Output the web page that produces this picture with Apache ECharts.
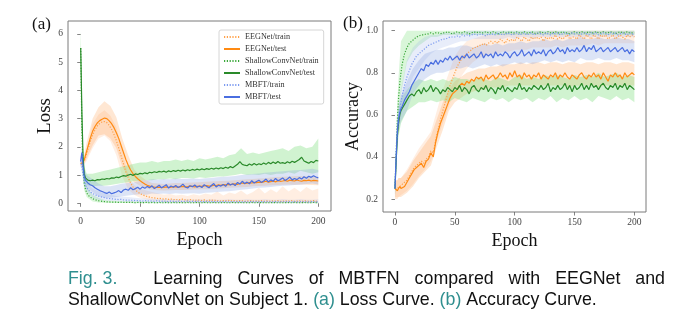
<!DOCTYPE html>
<html>
<head>
<meta charset="utf-8">
<script src="https://cdn.jsdelivr.net/npm/echarts@6.0.0/dist/echarts.min.js"></script>
<style>html,body{margin:0;padding:0;background:#fff;}#c{width:686px;height:324px;}</style>
</head>
<body>
<div id="c"></div>
<script>
// ---------- DATA ----------
const epochs = [0,1,2,3,4,5,6,8,
 10,12,14,16,18, 20,22,24,26,28, 30,32,34,36,38, 40,42,44,46,48, 50,52,54,56,58,
 60,62,64,66,68, 70,72,74,76,78, 80,82,84,86,88, 90,92,94,96,98, 100,102,104,106,108,
 110,112,114,116,118, 120,122,124,126,128, 130,132,134,136,138, 140,142,144,146,148,
 150,152,154,156,158, 160,162,164,166,168, 170,172,174,176,178, 180,182,184,186,188,
 190,192,194,196,198, 200];
const bandEpochs = [0,1,2,3,5, 10,15,20,25,30, 35,40,45,50,55, 60,65,70,75,80,
 85,90,95,100,105, 110,115,120,125,130, 135,140,145,150,155, 160,165,170,175,180, 185,190,195,200];

const seriesNames = ['EEGNet/train','EEGNet/test','ShallowConvNet/train','ShallowConvNet/test','MBFT/train','MBFT/test'];
const xTicks = [0,50,100,150,200];
const lossTicks = [0,1,2,3,4,5,6];
const accTicks = [0.2,0.4,0.6,0.8,1.0];

// Loss curves
const lossEegTrain = [1.40,1.38,1.42,1.50,1.62,1.76,1.90,2.18,
 2.42,2.60,2.74,2.83,2.88, 2.90,2.86,2.76,2.62,2.44, 2.22,1.96,1.68,1.40,1.12,
 0.90,0.72,0.58,0.47,0.40, 0.34,0.30,0.27,0.24,0.22, 0.20,0.19,0.17,0.18,0.16,
 0.15,0.16,0.14,0.15,0.13, 0.14,0.12,0.13,0.15,0.12, 0.11,0.13,0.12,0.10,0.12,
 0.11,0.10,0.12,0.09,0.11, 0.10,0.12,0.09,0.10,0.08, 0.10,0.09,0.11,0.08,0.10,
 0.09,0.08,0.10,0.09,0.07, 0.09,0.08,0.10,0.07,0.09, 0.08,0.10,0.07,0.09,0.08,
 0.07,0.09,0.08,0.10,0.07, 0.08,0.07,0.09,0.08,0.10, 0.07,0.08,0.09,0.07,0.08,
 0.09,0.07,0.08,0.10,0.07, 0.08];
const lossEegTest = [1.40,1.38,1.45,1.55,1.70,1.85,2.00,2.30,
 2.55,2.72,2.85,2.93,2.98, 3.02,3.00,2.92,2.82,2.68, 2.50,2.30,2.05,1.80,1.55,
 1.35,1.18,1.05,0.95,0.87, 0.80,0.74,0.68,0.64,0.61, 0.59,0.57,0.56,0.57,0.55,
 0.56,0.58,0.56,0.57,0.59, 0.58,0.57,0.59,0.60,0.58, 0.59,0.61,0.60,0.58,0.60,
 0.61,0.60,0.62,0.63,0.61, 0.62,0.64,0.63,0.65,0.64, 0.66,0.65,0.67,0.66,0.68,
 0.69,0.67,0.70,0.72,0.70, 0.71,0.73,0.72,0.74,0.73, 0.75,0.74,0.76,0.78,0.75,
 0.77,0.79,0.76,0.80,0.78, 0.79,0.81,0.78,0.82,0.80, 0.79,0.83,0.80,0.78,0.81,
 0.80,0.82,0.79,0.81,0.80, 0.79];
const lossShTrain = [5.50,2.60,1.20,0.70,0.50,0.38,0.30,0.22,
 0.16,0.13,0.10,0.08,0.07, 0.06,0.05,0.05,0.04,0.04, 0.04,0.03,0.04,0.03,0.03,
 0.03,0.04,0.03,0.02,0.03, 0.03,0.02,0.03,0.03,0.02, 0.03,0.02,0.02,0.03,0.02,
 0.02,0.03,0.02,0.02,0.03, 0.02,0.02,0.03,0.02,0.02, 0.03,0.02,0.02,0.02,0.03,
 0.02,0.02,0.03,0.02,0.02, 0.02,0.03,0.02,0.02,0.02, 0.03,0.02,0.02,0.02,0.03,
 0.02,0.02,0.03,0.02,0.02, 0.02,0.02,0.03,0.02,0.02, 0.03,0.02,0.02,0.02,0.02,
 0.02,0.03,0.02,0.02,0.02, 0.02,0.02,0.03,0.02,0.02, 0.03,0.02,0.02,0.02,0.03,
 0.02,0.02,0.02,0.03,0.02, 0.02];
const lossShTest = [5.50,3.20,1.60,1.05,0.90,0.84,0.82,0.80,
 0.82,0.80,0.84,0.83,0.86, 0.85,0.88,0.86,0.90,0.89, 0.93,0.91,0.95,0.98,0.96,
 1.00,1.03,0.99,1.04,1.02, 1.06,1.04,1.08,1.05,1.10, 1.08,1.12,1.09,1.13,1.11,
 1.14,1.10,1.15,1.12,1.16, 1.13,1.17,1.14,1.18,1.15, 1.19,1.16,1.20,1.17,1.21,
 1.18,1.22,1.19,1.23,1.20, 1.24,1.21,1.25,1.22,1.26, 1.23,1.28,1.24,1.30,1.26,
 1.32,1.38,1.48,1.38,1.35, 1.33,1.39,1.35,1.41,1.36, 1.40,1.37,1.43,1.38,1.45,
 1.40,1.46,1.41,1.48,1.42, 1.44,1.41,1.47,1.43,1.49, 1.45,1.50,1.55,1.63,1.50,
 1.46,1.42,1.48,1.44,1.52, 1.50];
const lossMbTrain = [1.50,1.30,1.00,0.80,0.65,0.55,0.48,0.40,
 0.35,0.30,0.27,0.24,0.22, 0.20,0.18,0.17,0.16,0.15, 0.14,0.13,0.14,0.12,0.11,
 0.12,0.10,0.11,0.09,0.10, 0.09,0.08,0.10,0.08,0.09, 0.08,0.07,0.09,0.08,0.07,
 0.08,0.07,0.06,0.08,0.07, 0.06,0.08,0.07,0.06,0.07, 0.08,0.06,0.07,0.06,0.08,
 0.06,0.07,0.05,0.07,0.06, 0.07,0.05,0.06,0.07,0.05, 0.06,0.07,0.05,0.06,0.05,
 0.07,0.05,0.06,0.05,0.06, 0.05,0.06,0.07,0.05,0.06, 0.05,0.06,0.05,0.07,0.05,
 0.06,0.05,0.06,0.05,0.06, 0.05,0.07,0.05,0.06,0.05, 0.06,0.05,0.05,0.07,0.05,
 0.06,0.05,0.06,0.05,0.06, 0.05];
const lossMbTest = [1.50,1.80,1.30,0.95,0.82,0.78,0.72,0.66,
 0.62,0.55,0.50,0.45,0.42, 0.38,0.35,0.40,0.34,0.37, 0.40,0.45,0.38,0.47,0.50,
 0.46,0.55,0.48,0.52,0.57, 0.50,0.58,0.53,0.60,0.55, 0.62,0.52,0.58,0.64,0.55,
 0.60,0.66,0.54,0.61,0.57, 0.63,0.56,0.60,0.68,0.58, 0.54,0.62,0.59,0.65,0.57,
 0.61,0.56,0.66,0.60,0.55, 0.63,0.70,0.58,0.64,0.61, 0.67,0.60,0.72,0.65,0.69,
 0.63,0.74,0.68,0.78,0.70, 0.75,0.69,0.80,0.72,0.77, 0.82,0.74,0.79,0.86,0.76,
 0.83,0.78,0.88,0.80,0.84, 0.90,0.81,0.86,0.93,0.83, 0.88,0.84,0.91,0.86,0.94,
 0.89,0.96,0.92,0.98,0.93, 0.90];

// Loss bands (lower / upper)
const lossEegTrainLo = [1.30,1.30,1.30,1.38,1.50, 1.95,2.30,2.40,2.20,1.70, 0.95,0.50,0.30,0.20,0.14,
 0.10,0.07,0.05,0.04,0.03, 0.02,0.02,0.02,0.01,0.02, 0.01,0.01,0.02,0.01,0.01,
 0.01,0.01,0.01,0.01,0.01, 0.01,0.01,0.01,0.01,0.01, 0.01,0.01,0.01,0.01];
const lossEegTrainHi = [1.50,1.48,1.55,1.65,1.95, 2.80,3.15,3.30,3.10,2.70, 1.85,1.00,0.65,0.52,0.45,
 0.40,0.35,0.30,0.33,0.28, 0.30,0.26,0.32,0.28,0.35, 0.30,0.42,0.28,0.38,0.33,
 0.45,0.30,0.40,0.55,0.35, 0.50,0.38,0.60,0.42,0.55, 0.40,0.58,0.45,0.52];
const lossEegTestLo = [1.30,1.30,1.35,1.40,1.60, 2.05,2.40,2.45,2.30,1.95, 1.30,0.95,0.75,0.62,0.52,
 0.48,0.46,0.45,0.46,0.47, 0.47,0.48,0.49,0.50,0.50, 0.51,0.52,0.53,0.55,0.56,
 0.57,0.58,0.60,0.61,0.62, 0.64,0.65,0.66,0.67,0.66, 0.67,0.66,0.65,0.64];
const lossEegTestHi = [1.50,1.50,1.60,1.75,2.15, 3.00,3.40,3.62,3.45,3.05, 2.30,1.70,1.20,0.98,0.82,
 0.72,0.70,0.68,0.70,0.72, 0.72,0.73,0.74,0.75,0.76, 0.77,0.78,0.79,0.80,0.82,
 0.83,0.85,0.86,0.88,0.89, 0.91,0.93,0.94,0.95,0.96, 0.97,0.96,0.95,0.94];
const lossShTrainLo = [4.80,2.00,0.80,0.45,0.22, 0.06,0.03,0.02,0.01,0.01, 0.01,0.01,0.00,0.00,0.00,
 0.00,0.00,0.00,0.00,0.00, 0.00,0.00,0.00,0.00,0.00, 0.00,0.00,0.00,0.00,0.00,
 0.00,0.00,0.00,0.00,0.00, 0.00,0.00,0.00,0.00,0.00, 0.00,0.00,0.00,0.00];
const lossShTrainHi = [6.10,3.20,1.60,1.00,0.60, 0.30,0.20,0.12,0.09,0.08, 0.07,0.07,0.06,0.06,0.06,
 0.06,0.05,0.06,0.05,0.06, 0.05,0.06,0.05,0.05,0.06, 0.05,0.05,0.06,0.05,0.05,
 0.06,0.05,0.05,0.06,0.05, 0.05,0.06,0.05,0.05,0.06, 0.05,0.05,0.06,0.05];
const lossShTestLo = [4.90,2.50,1.20,0.85,0.65, 0.60,0.62,0.62,0.65,0.68, 0.72,0.75,0.78,0.80,0.82,
 0.82,0.85,0.85,0.88,0.85, 0.90,0.90,0.88,0.92,0.90, 0.92,0.95,0.95,0.98,1.00,
 1.05,1.00,1.02,1.00,1.05, 1.00,1.05,1.05,1.10,1.05, 1.15,1.10,1.05,1.10];
const lossShTestHi = [6.10,3.90,2.00,1.30,1.05, 1.05,1.10,1.15,1.20,1.25, 1.30,1.35,1.40,1.45,1.45,
 1.50,1.45,1.50,1.50,1.55, 1.50,1.55,1.50,1.60,1.55, 1.60,1.65,1.60,1.70,1.75,
 1.95,1.75,1.80,1.75,1.80, 1.85,1.90,1.95,1.85,2.00, 2.05,1.95,2.00,2.30];
const lossMbTrainLo = [1.30,1.10,0.80,0.60,0.40, 0.20,0.12,0.10,0.08,0.07, 0.06,0.05,0.04,0.03,0.03,
 0.02,0.02,0.02,0.02,0.02, 0.02,0.01,0.02,0.01,0.01, 0.01,0.01,0.01,0.01,0.01,
 0.01,0.01,0.01,0.01,0.01, 0.01,0.01,0.01,0.01,0.01, 0.01,0.01,0.01,0.01];
const lossMbTrainHi = [1.70,1.50,1.20,1.00,0.75, 0.52,0.42,0.35,0.30,0.26, 0.24,0.22,0.20,0.18,0.17,
 0.16,0.15,0.15,0.14,0.14, 0.13,0.14,0.13,0.14,0.13, 0.14,0.13,0.13,0.14,0.13,
 0.13,0.14,0.13,0.13,0.14, 0.13,0.13,0.14,0.13,0.13, 0.14,0.13,0.13,0.14];
const lossMbTestLo = [1.30,1.50,1.00,0.70,0.55, 0.40,0.25,0.20,0.20,0.22, 0.25,0.28,0.30,0.32,0.30,
 0.35,0.33,0.35,0.33,0.36, 0.34,0.35,0.36,0.34,0.37, 0.38,0.40,0.42,0.43,0.45,
 0.48,0.50,0.52,0.55,0.56, 0.58,0.60,0.62,0.63,0.65, 0.66,0.68,0.70,0.67];
const lossMbTestHi = [1.70,2.00,1.50,1.20,1.00, 0.85,0.70,0.60,0.60,0.65, 0.70,0.72,0.75,0.80,0.82,
 0.85,0.84,0.86,0.85,0.88, 0.86,0.87,0.88,0.86,0.89, 0.90,0.92,0.94,0.95,0.97,
 1.00,1.02,1.04,1.06,1.08, 1.10,1.12,1.14,1.15,1.17, 1.18,1.20,1.22,1.18];

// Accuracy curves
const accEegTrain = [0.25,0.25,0.25,0.25,0.26,0.26,0.27,0.28,
 0.29,0.31,0.33,0.35,0.36, 0.37,0.38,0.37,0.39,0.40, 0.43,0.42,0.48,0.53,0.58,
 0.62,0.66,0.70,0.74,0.77, 0.80,0.83,0.85,0.87,0.88, 0.89,0.90,0.91,0.92,0.92,
 0.93,0.93,0.94,0.93,0.94, 0.95,0.94,0.95,0.94,0.96, 0.95,0.94,0.96,0.95,0.96,
 0.95,0.97,0.96,0.95,0.97, 0.96,0.95,0.97,0.96,0.97, 0.96,0.97,0.95,0.97,0.96,
 0.97,0.96,0.98,0.96,0.97, 0.96,0.97,0.98,0.96,0.97, 0.97,0.96,0.98,0.97,0.96,
 0.98,0.97,0.96,0.98,0.97, 0.96,0.98,0.97,0.98,0.96, 0.97,0.98,0.96,0.97,0.98,
 0.97,0.96,0.98,0.97,0.98, 0.97];
const accEegTest = [0.25,0.25,0.24,0.25,0.26,0.25,0.25,0.26,
 0.28,0.30,0.32,0.34,0.35, 0.36,0.37,0.35,0.38,0.39, 0.42,0.40,0.47,0.52,0.56,
 0.59,0.62,0.65,0.68,0.70, 0.71,0.72,0.74,0.75,0.74, 0.76,0.75,0.77,0.76,0.78,
 0.77,0.78,0.76,0.79,0.77, 0.78,0.79,0.77,0.78,0.80, 0.78,0.79,0.77,0.80,0.78,
 0.81,0.78,0.79,0.77,0.80, 0.78,0.79,0.77,0.79,0.78, 0.80,0.77,0.79,0.78,0.77,
 0.79,0.78,0.80,0.77,0.79, 0.78,0.80,0.78,0.77,0.79, 0.78,0.77,0.79,0.80,0.78,
 0.77,0.79,0.78,0.80,0.78, 0.79,0.77,0.80,0.78,0.76, 0.79,0.78,0.80,0.78,0.79,
 0.77,0.80,0.78,0.79,0.80, 0.79];
const accShTrain = [0.25,0.42,0.58,0.68,0.75,0.80,0.84,0.89,
 0.92,0.94,0.95,0.96,0.97, 0.975,0.98,0.98,0.985,0.985, 0.99,0.985,0.99,0.99,0.985,
 0.99,0.99,0.995,0.99,0.985, 0.99,0.995,0.99,0.99,0.995, 0.99,0.985,0.99,0.995,0.99,
 0.995,0.99,0.99,0.995,0.99, 0.99,0.995,0.99,0.985,0.99, 0.995,0.99,0.99,0.995,0.99,
 0.99,0.995,0.99,0.99,0.995, 0.99,0.99,0.995,0.99,0.985, 0.99,0.995,0.99,0.99,0.995,
 0.99,0.99,0.995,0.99,0.99, 0.995,0.99,0.99,0.985,0.99, 0.995,0.99,0.99,0.995,0.99,
 0.99,0.995,0.99,0.99,0.995, 0.99,0.99,0.995,0.99,0.99, 0.995,0.99,0.985,0.99,0.995,
 0.99,0.99,0.995,0.99,0.99, 0.99];
const accShTest = [0.25,0.38,0.50,0.56,0.60,0.62,0.63,0.65,
 0.67,0.69,0.70,0.69,0.71, 0.72,0.70,0.73,0.71,0.72, 0.74,0.71,0.73,0.72,0.70,
 0.72,0.71,0.73,0.72,0.71, 0.73,0.72,0.74,0.71,0.73, 0.72,0.70,0.73,0.74,0.72,
 0.71,0.73,0.72,0.74,0.71, 0.73,0.72,0.70,0.73,0.72, 0.74,0.71,0.73,0.72,0.71,
 0.73,0.72,0.75,0.72,0.73, 0.71,0.73,0.72,0.74,0.73, 0.72,0.74,0.72,0.73,0.75,
 0.71,0.73,0.72,0.74,0.72, 0.73,0.75,0.72,0.74,0.71, 0.74,0.72,0.73,0.75,0.72,
 0.74,0.72,0.75,0.73,0.74, 0.72,0.74,0.75,0.73,0.72, 0.74,0.73,0.75,0.72,0.74,
 0.73,0.75,0.72,0.74,0.73, 0.72];
const accMbTrain = [0.25,0.42,0.53,0.59,0.63,0.66,0.69,0.74,
 0.78,0.81,0.84,0.86,0.88, 0.89,0.90,0.91,0.92,0.93, 0.935,0.94,0.945,0.95,0.955,
 0.96,0.96,0.965,0.97,0.97, 0.97,0.975,0.97,0.98,0.975, 0.98,0.975,0.98,0.985,0.98,
 0.98,0.985,0.98,0.975,0.985, 0.98,0.985,0.98,0.99,0.98, 0.985,0.98,0.99,0.985,0.98,
 0.985,0.99,0.98,0.985,0.99, 0.98,0.985,0.99,0.98,0.985, 0.99,0.985,0.98,0.99,0.985,
 0.98,0.99,0.985,0.99,0.98, 0.985,0.99,0.985,0.98,0.99, 0.985,0.99,0.98,0.985,0.99,
 0.985,0.98,0.99,0.985,0.99, 0.98,0.985,0.99,0.985,0.98, 0.99,0.985,0.99,0.98,0.985,
 0.99,0.985,0.98,0.99,0.985, 0.98];
const accMbTest = [0.25,0.40,0.52,0.58,0.61,0.63,0.64,0.67,
 0.69,0.71,0.74,0.76,0.78, 0.80,0.82,0.81,0.84,0.83, 0.85,0.84,0.86,0.84,0.86,
 0.85,0.87,0.86,0.88,0.86, 0.87,0.88,0.86,0.88,0.87, 0.89,0.87,0.88,0.89,0.87,
 0.88,0.90,0.87,0.89,0.88, 0.89,0.87,0.90,0.88,0.89, 0.88,0.90,0.89,0.87,0.89,
 0.90,0.88,0.89,0.91,0.88, 0.89,0.90,0.88,0.91,0.89, 0.90,0.89,0.91,0.88,0.90,
 0.91,0.89,0.90,0.92,0.90, 0.91,0.89,0.92,0.90,0.91, 0.90,0.92,0.90,0.91,0.93,
 0.90,0.92,0.91,0.93,0.90, 0.91,0.92,0.90,0.91,0.92, 0.90,0.91,0.92,0.90,0.91,
 0.92,0.90,0.91,0.89,0.91, 0.90];

// Accuracy bands
const accEegTrainLo = [0.21,0.21,0.21,0.21,0.22, 0.24,0.27,0.31,0.34,0.38, 0.48,0.56,0.64,0.72,0.78,
 0.82,0.85,0.87,0.88,0.89, 0.89,0.90,0.90,0.91,0.91, 0.91,0.92,0.92,0.92,0.92,
 0.93,0.92,0.93,0.93,0.93, 0.93,0.94,0.93,0.94,0.94, 0.94,0.94,0.94,0.94];
const accEegTrainHi = [0.29,0.29,0.29,0.30,0.30, 0.34,0.39,0.44,0.48,0.52, 0.62,0.72,0.80,0.88,0.92,
 0.95,0.96,0.97,0.98,0.98, 0.98,0.99,0.99,0.99,0.99, 0.99,0.99,1.00,0.99,1.00,
 1.00,0.99,1.00,1.00,1.00, 1.00,1.00,1.00,1.00,1.00, 1.00,1.00,1.00,1.00];
const accEegTestLo = [0.20,0.20,0.20,0.21,0.21, 0.23,0.26,0.30,0.33,0.36, 0.45,0.53,0.62,0.66,0.68,
 0.70,0.71,0.72,0.72,0.73, 0.73,0.73,0.74,0.74,0.74, 0.74,0.74,0.74,0.74,0.74,
 0.74,0.74,0.73,0.74,0.74, 0.74,0.74,0.73,0.74,0.74, 0.74,0.74,0.74,0.74];
const accEegTestHi = [0.28,0.29,0.29,0.30,0.30, 0.33,0.38,0.42,0.46,0.50, 0.58,0.66,0.72,0.76,0.78,
 0.80,0.81,0.82,0.82,0.83, 0.83,0.84,0.84,0.84,0.85, 0.84,0.85,0.85,0.84,0.85,
 0.85,0.84,0.85,0.85,0.84, 0.85,0.85,0.84,0.85,0.85, 0.84,0.85,0.85,0.84];
const accShTrainLo = [0.22,0.36,0.50,0.60,0.70, 0.85,0.90,0.93,0.95,0.97, 0.97,0.98,0.98,0.98,0.98,
 0.98,0.98,0.98,0.98,0.98, 0.98,0.98,0.98,0.98,0.98, 0.98,0.98,0.98,0.98,0.98,
 0.98,0.98,0.98,0.98,0.98, 0.98,0.98,0.98,0.98,0.98, 0.98,0.98,0.98,0.98];
const accShTrainHi = [0.28,0.48,0.66,0.78,0.95, 1.00,1.00,1.00,1.00,1.00, 1.00,1.00,1.00,1.00,1.00,
 1.00,1.00,1.00,1.00,1.00, 1.00,1.00,1.00,1.00,1.00, 1.00,1.00,1.00,1.00,1.00,
 1.00,1.00,1.00,1.00,1.00, 1.00,1.00,1.00,1.00,1.00, 1.00,1.00,1.00,1.00];
const accShTestLo = [0.22,0.33,0.44,0.50,0.56, 0.62,0.64,0.66,0.66,0.67, 0.66,0.67,0.66,0.68,0.67,
 0.66,0.68,0.67,0.66,0.68, 0.67,0.68,0.66,0.68,0.67, 0.68,0.66,0.68,0.67,0.69,
 0.66,0.68,0.67,0.69,0.67, 0.68,0.66,0.69,0.68,0.67, 0.69,0.67,0.68,0.66];
const accShTestHi = [0.28,0.43,0.56,0.62,0.68, 0.72,0.75,0.77,0.76,0.77, 0.76,0.77,0.76,0.78,0.77,
 0.77,0.76,0.78,0.77,0.76, 0.78,0.77,0.76,0.78,0.79, 0.77,0.78,0.77,0.79,0.78,
 0.79,0.78,0.77,0.79,0.78, 0.79,0.78,0.80,0.78,0.79, 0.80,0.78,0.79,0.78];
const accMbTrainLo = [0.22,0.36,0.48,0.54,0.60, 0.70,0.78,0.82,0.86,0.89, 0.91,0.92,0.93,0.94,0.95,
 0.95,0.96,0.96,0.96,0.96, 0.96,0.96,0.97,0.96,0.97, 0.97,0.96,0.97,0.97,0.97,
 0.97,0.97,0.97,0.97,0.97, 0.97,0.97,0.97,0.97,0.97, 0.97,0.97,0.97,0.97];
const accMbTrainHi = [0.28,0.48,0.58,0.64,0.72, 0.86,0.92,0.95,0.97,0.98, 0.98,0.99,0.99,0.99,0.99,
 1.00,1.00,1.00,1.00,1.00, 1.00,1.00,1.00,1.00,1.00, 1.00,1.00,1.00,1.00,1.00,
 1.00,1.00,1.00,1.00,1.00, 1.00,1.00,1.00,1.00,1.00, 1.00,1.00,1.00,1.00];
const accMbTestLo = [0.20,0.35,0.46,0.52,0.57, 0.62,0.70,0.74,0.77,0.79, 0.80,0.80,0.81,0.82,0.82,
 0.83,0.82,0.83,0.84,0.83, 0.84,0.83,0.84,0.85,0.84, 0.85,0.84,0.85,0.86,0.85,
 0.86,0.85,0.86,0.85,0.87, 0.86,0.86,0.87,0.86,0.86, 0.87,0.86,0.86,0.85];
const accMbTestHi = [0.30,0.45,0.58,0.64,0.69, 0.76,0.82,0.86,0.89,0.90, 0.91,0.91,0.92,0.92,0.93,
 0.93,0.92,0.93,0.94,0.93, 0.94,0.93,0.94,0.94,0.95, 0.94,0.95,0.95,0.96,0.95,
 0.96,0.95,0.96,0.96,0.97, 0.96,0.96,0.97,0.96,0.96, 0.97,0.96,0.96,0.95];

// ---------- STYLE ----------
const SERIF = '"Liberation Serif", "Times New Roman", serif';
const SANS = '"Liberation Sans", Arial, sans-serif';
const TEAL = '#2f8f8f';
const lineColors = ['#ffa24a','#ff8a12','#3aa83a','#2a8a2a','#7d9bf0','#4a6ee0'];
const bandColors = {
  eegTrain: 'rgba(255,170,110,0.20)', eegTest: 'rgba(255,160,80,0.25)',
  shTrain: 'rgba(130,225,130,0.30)', shTest: 'rgba(120,220,120,0.35)',
  mbTrain: 'rgba(165,185,235,0.25)', mbTest: 'rgba(140,165,225,0.30)'
};

function pairs(xs, ys) { return xs.map((x, i) => [x, ys[i]]); }
function band(name, gi, lo, hi, color) {
  return {
    type: 'custom', name: name, xAxisIndex: gi, yAxisIndex: gi, silent: true, z: 1,
    data: bandEpochs.map((e, i) => [e, lo[i], hi[i]]),
    encode: { x: 0, y: [1, 2] },
    renderItem: function (params, api) {
      if (params.dataIndexInside !== 0) return null;
      const n = params.dataInsideLength;
      const top = [], bot = [];
      for (let j = 0; j < n; j++) {
        top.push(api.coord([api.value(0, j), api.value(2, j)]));
        bot.push(api.coord([api.value(0, j), api.value(1, j)]));
      }
      return { type: 'polygon', shape: { points: top.concat(bot.reverse()) }, style: { fill: color } };
    }
  };
}
function line(name, gi, ys, idx) {
  const dotted = name.indexOf('train') >= 0;
  return {
    type: 'line', name: name, xAxisIndex: gi, yAxisIndex: gi, z: 3,
    data: pairs(epochs, ys), symbol: 'none', animation: false,
    lineStyle: { color: lineColors[idx], width: 1.2, type: dotted ? [1.2, 1.6] : 'solid' },
    itemStyle: { color: lineColors[idx] }
  };
}
function xAxis(gi, min, max) {
  return {
    gridIndex: gi, type: 'value', min: min, max: max,
    splitLine: { show: false }, axisLine: { show: false },
    axisTick: { show: true, customValues: xTicks, length: 3.5, lineStyle: { color: '#666', width: 0.8 } },
    axisLabel: { customValues: xTicks, fontFamily: SERIF, fontSize: 9.5, color: '#444', margin: 5 },
    name: 'Epoch', nameLocation: 'middle', nameGap: 12,
    nameTextStyle: { fontFamily: SERIF, fontSize: 18, color: '#111' }
  };
}

const option = {
  animation: false,
  backgroundColor: '#fff',
  grid: [
    { left: 68, top: 21, width: 263, height: 190, show: true, borderColor: '#7a7a7a', borderWidth: 1, backgroundColor: 'transparent' },
    { left: 383, top: 21, width: 263, height: 191, show: true, borderColor: '#7a7a7a', borderWidth: 1, backgroundColor: 'transparent' }
  ],
  xAxis: [xAxis(0, -10.7, 210.7), xAxis(1, -10.0, 209.7)],
  yAxis: [
    { gridIndex: 0, type: 'value', min: -0.273, max: 6.46, splitLine: { show: false }, axisLine: { show: false },
      axisTick: { show: true, customValues: lossTicks, length: 3.5, lineStyle: { color: '#666', width: 0.8 } },
      axisLabel: { customValues: lossTicks, fontFamily: SERIF, fontSize: 9.5, color: '#444', margin: 5 },
      name: 'Loss', nameLocation: 'middle', nameGap: 9, nameRotate: 90,
      nameTextStyle: { fontFamily: SERIF, fontSize: 19, color: '#111' } },
    { gridIndex: 1, type: 'value', min: 0.1387, max: 1.046, splitLine: { show: false }, axisLine: { show: false },
      axisTick: { show: true, customValues: accTicks, length: 3.5, lineStyle: { color: '#666', width: 0.8 } },
      axisLabel: { customValues: accTicks, fontFamily: SERIF, fontSize: 9.5, color: '#444', margin: 5,
        formatter: v => v.toFixed(1) },
      name: 'Accuracy', nameLocation: 'middle', nameGap: 19, nameRotate: 90,
      nameTextStyle: { fontFamily: SERIF, fontSize: 18, color: '#111' } }
  ],
  legend: {
    data: seriesNames, orient: 'vertical', left: 219, top: 30,
    itemWidth: 16, itemHeight: 8, itemGap: 4, padding: [3, 5, 3, 4],
    backgroundColor: '#fff', borderColor: '#d6d6d6', borderWidth: 1, borderRadius: 2,
    selectedMode: false, itemStyle: { opacity: 0 },
    textStyle: { fontFamily: SERIF, fontSize: 8.2, color: '#333' }
  },
  series: [
    band('b1', 0, lossEegTrainLo, lossEegTrainHi, bandColors.eegTrain),
    band('b2', 0, lossEegTestLo, lossEegTestHi, bandColors.eegTest),
    band('b3', 0, lossShTrainLo, lossShTrainHi, bandColors.shTrain),
    band('b4', 0, lossShTestLo, lossShTestHi, bandColors.shTest),
    band('b5', 0, lossMbTrainLo, lossMbTrainHi, bandColors.mbTrain),
    band('b6', 0, lossMbTestLo, lossMbTestHi, bandColors.mbTest),
    band('c1', 1, accEegTrainLo, accEegTrainHi, bandColors.eegTrain),
    band('c2', 1, accEegTestLo, accEegTestHi, bandColors.eegTest),
    band('c3', 1, accShTrainLo, accShTrainHi, bandColors.shTrain),
    band('c4', 1, accShTestLo, accShTestHi, bandColors.shTest),
    band('c5', 1, accMbTrainLo, accMbTrainHi, bandColors.mbTrain),
    band('c6', 1, accMbTestLo, accMbTestHi, bandColors.mbTest),
    line(seriesNames[0], 0, lossEegTrain, 0),
    line(seriesNames[1], 0, lossEegTest, 1),
    line(seriesNames[2], 0, lossShTrain, 2),
    line(seriesNames[3], 0, lossShTest, 3),
    line(seriesNames[4], 0, lossMbTrain, 4),
    line(seriesNames[5], 0, lossMbTest, 5),
    line(seriesNames[0], 1, accEegTrain, 0),
    line(seriesNames[1], 1, accEegTest, 1),
    line(seriesNames[2], 1, accShTrain, 2),
    line(seriesNames[3], 1, accShTest, 3),
    line(seriesNames[4], 1, accMbTrain, 4),
    line(seriesNames[5], 1, accMbTest, 5)
  ]
};

// ---------- CAPTION & PANEL LABELS ----------
const captionLine1 = ['Fig. 3.', 'Learning', 'Curves', 'of', 'MBTFN', 'compared', 'with', 'EEGNet', 'and'];
const captionLine2 = 'ShallowConvNet on Subject 1. ';
const CAP_FONT = '17.8px ' + SANS;
const ctx = document.createElement('canvas').getContext('2d');
ctx.font = CAP_FONT;
const capLeft = 68, capRight = 665;
const widths = captionLine1.map(w => ctx.measureText(w).width);
const total = widths.reduce((a, b) => a + b, 0);
const extra = capRight - capLeft - total;
const weights = [2.4, 1, 1, 1, 1, 1, 1, 1];
const wsum = weights.reduce((a, b) => a + b, 0);
const graphics = [
  { type: 'text', x: 32, y: 25, style: { text: '(a)', font: '17px ' + SERIF, fill: '#111', verticalAlign: 'middle' } },
  { type: 'text', x: 343, y: 24, style: { text: '(b)', font: '17px ' + SERIF, fill: '#111', verticalAlign: 'middle' } }
];
let cx = capLeft;
captionLine1.forEach((w, i) => {
  graphics.push({ type: 'text', x: cx, y: 279, style: { text: w, font: CAP_FONT, fill: i === 0 ? TEAL : '#111', verticalAlign: 'middle' } });
  cx += widths[i] + (i < weights.length ? extra * weights[i] / wsum : 0);
});
graphics.push({
  type: 'text', x: capLeft, y: 300,
  style: {
    text: '{k|' + captionLine2 + '}{t|(a)}{k| Loss Curve. }{t|(b)}{k| Accuracy Curve.}',
    verticalAlign: 'middle',
    rich: {
      k: { fontFamily: SANS, fontSize: 17.8, fill: '#111', color: '#111' },
      t: { fontFamily: SANS, fontSize: 17.8, fill: TEAL, color: TEAL }
    }
  }
});
option.graphic = graphics;

const chart = echarts.init(document.getElementById('c'), null, { renderer: 'canvas' });
chart.setOption(option);
</script>
</body>
</html>
